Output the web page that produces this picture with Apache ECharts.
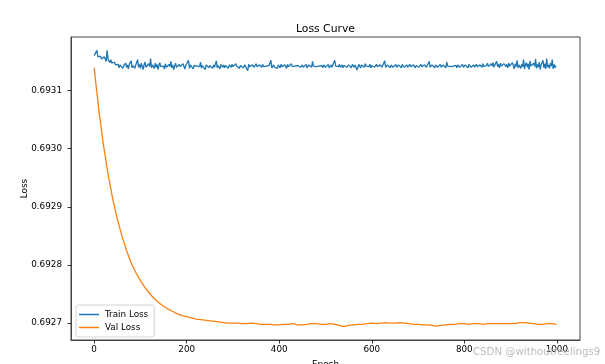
<!DOCTYPE html>
<html>
<head>
<meta charset="utf-8">
<script src="https://cdn.jsdelivr.net/npm/echarts@6/dist/echarts.min.js"></script>
<style>html,body{margin:0;padding:0;background:#fff;}#c{width:605px;height:364px;}</style>
</head>
<body>
<div id="c"></div>
<script>
// Train loss, one value every 2 epochs (0..998)
const trainStep = 2;
const trainLoss = [
0.693160,0.693163,0.693157,0.693169,0.693158,0.693161,0.693155,0.693159,0.693154,0.693157,0.693152,0.693158,0.693156,0.693150,0.693169,0.693154,0.693151,0.693148,0.693153,0.693147,0.693150,0.693146,0.693149,0.693144,0.693147,
0.693141,0.693145,0.693139,0.693144,0.693142,0.693146,0.693138,0.693143,0.693141,0.693147,0.693140,0.693144,0.693137,0.693145,0.693142,0.693151,0.693139,0.693143,0.693146,0.693138,0.693144,0.693141,0.693153,0.693140,0.693145,
0.693138,0.693147,0.693142,0.693136,0.693144,0.693149,0.693140,0.693143,0.693137,0.693146,0.693141,0.693155,0.693139,0.693144,0.693142,0.693138,0.693147,0.693140,0.693145,0.693136,0.693143,0.693148,0.693141,0.693139,0.693144,
0.693142,0.693137,0.693146,0.693140,0.693143,0.693138,0.693145,0.693141,0.693150,0.693139,0.693144,0.693136,0.693142,0.693147,0.693140,0.693143,0.693138,0.693145,0.693141,0.693144,0.693139,0.693146,0.693142,0.693137,0.693143,
0.693145,0.693140,0.693152,0.693138,0.693144,0.693141,0.693147,0.693137,0.693143,0.693140,0.693146,0.693142,0.693139,0.693144,0.693141,0.693149,0.693138,0.693143,0.693145,0.693140,0.693136,0.693144,0.693142,0.693147,0.693139,
0.693143,0.693141,0.693145,0.693138,0.693144,0.693140,0.693142,0.693151,0.693139,0.693143,0.693141,0.693137,0.693145,0.693142,0.693140,0.693144,0.693139,0.693143,0.693146,0.693141,0.693138,0.693144,0.693142,0.693140,0.693145,
0.693141,0.693143,0.693139,0.693146,0.693142,0.693140,0.693144,0.693138,0.693143,0.693141,0.693145,0.693139,0.693142,0.693144,0.693140,0.693143,0.693134,0.693145,0.693141,0.693143,0.693139,0.693144,0.693142,0.693140,0.693143,
0.693146,0.693141,0.693143,0.693139,0.693144,0.693142,0.693140,0.693145,0.693141,0.693143,0.693138,0.693142,0.693144,0.693140,0.693143,0.693141,0.693152,0.693139,0.693142,0.693144,0.693140,0.693143,0.693141,0.693138,0.693144,
0.693142,0.693139,0.693145,0.693141,0.693143,0.693140,0.693144,0.693142,0.693138,0.693145,0.693141,0.693143,0.693139,0.693146,0.693141,0.693144,0.693140,0.693142,0.693144,0.693139,0.693143,0.693141,0.693145,0.693140,0.693142,
0.693144,0.693140,0.693143,0.693141,0.693145,0.693139,0.693142,0.693144,0.693141,0.693143,0.693140,0.693150,0.693142,0.693139,0.693143,0.693141,0.693144,0.693140,0.693142,0.693145,0.693141,0.693143,0.693139,0.693144,0.693142,
0.693140,0.693143,0.693141,0.693145,0.693139,0.693142,0.693144,0.693140,0.693143,0.693141,0.693152,0.693142,0.693139,0.693143,0.693141,0.693145,0.693140,0.693142,0.693144,0.693139,0.693143,0.693141,0.693144,0.693140,0.693142,
0.693144,0.693141,0.693143,0.693139,0.693145,0.693142,0.693140,0.693144,0.693141,0.693135,0.693140,0.693145,0.693142,0.693139,0.693144,0.693141,0.693143,0.693140,0.693146,0.693142,0.693140,0.693143,0.693141,0.693145,0.693139,
0.693143,0.693141,0.693144,0.693140,0.693142,0.693145,0.693141,0.693143,0.693139,0.693144,0.693142,0.693140,0.693143,0.693141,0.693151,0.693140,0.693142,0.693144,0.693141,0.693143,0.693139,0.693144,0.693142,0.693140,0.693143,
0.693141,0.693145,0.693140,0.693142,0.693144,0.693141,0.693143,0.693139,0.693145,0.693142,0.693140,0.693143,0.693141,0.693144,0.693140,0.693142,0.693145,0.693141,0.693143,0.693140,0.693144,0.693142,0.693139,0.693143,0.693141,
0.693144,0.693140,0.693142,0.693145,0.693141,0.693143,0.693139,0.693144,0.693142,0.693140,0.693143,0.693141,0.693150,0.693140,0.693142,0.693144,0.693141,0.693143,0.693139,0.693144,0.693142,0.693140,0.693143,0.693141,0.693145,
0.693140,0.693142,0.693144,0.693141,0.693143,0.693139,0.693149,0.693142,0.693140,0.693143,0.693141,0.693144,0.693140,0.693142,0.693145,0.693141,0.693143,0.693139,0.693144,0.693142,0.693140,0.693143,0.693141,0.693145,0.693140,
0.693142,0.693144,0.693141,0.693143,0.693139,0.693145,0.693142,0.693140,0.693143,0.693141,0.693144,0.693140,0.693142,0.693145,0.693141,0.693143,0.693139,0.693144,0.693142,0.693140,0.693146,0.693141,0.693144,0.693140,0.693143,
0.693147,0.693141,0.693144,0.693139,0.693146,0.693142,0.693148,0.693140,0.693144,0.693142,0.693150,0.693141,0.693145,0.693139,0.693147,0.693142,0.693144,0.693140,0.693146,0.693143,0.693141,0.693145,0.693139,0.693147,0.693142,
0.693145,0.693140,0.693148,0.693142,0.693137,0.693146,0.693141,0.693152,0.693139,0.693144,0.693147,0.693138,0.693145,0.693141,0.693153,0.693137,0.693144,0.693148,0.693140,0.693146,0.693136,0.693151,0.693142,0.693145,0.693139,
0.693147,0.693141,0.693154,0.693138,0.693145,0.693140,0.693149,0.693136,0.693144,0.693142,0.693152,0.693139,0.693146,0.693137,0.693155,0.693140,0.693144,0.693138,0.693147,0.693142,0.693153,0.693137,0.693145,0.693139,0.693143
];
const valEpochs = [0,10,20,30,40,50,60,70,80,90,100,110,120,130,140,150,160,170,180,190,200,210,220,230,240,250,260,270,280,290,300,
310,320,330,340,350,360,370,380,390,400,410,420,430,440,450,460,470,480,490,500,510,520,530,540,550,560,570,580,590,600,
610,620,630,640,650,660,670,680,690,700,710,720,730,740,750,760,770,780,790,800,810,820,830,840,850,860,870,880,890,900,
910,920,930,940,950,960,970,980,990,999];
const valLoss = [0.693139,0.693067,0.693007,0.692957,0.692914,0.692879,0.692850,0.692825,0.692804,0.692787,0.692773,0.692761,0.692751,0.692742,0.692735,0.692729,0.692724,0.692720,0.692716,0.692713,0.692711,0.692709,0.692707,0.692706,0.692705,0.692704,0.692703,0.692702,0.692701,0.692700,0.692700,
0.692700,0.692699,0.692699,0.692700,0.692699,0.692698,0.692698,0.692698,0.692697,0.692697,0.692698,0.692698,0.692699,0.692697,0.692697,0.692698,0.692699,0.692699,0.692698,0.692698,0.692699,0.692698,0.692696,0.692694,0.692696,0.692697,0.692698,0.692698,0.692699,0.692700,
0.692699,0.692700,0.692701,0.692700,0.692700,0.692701,0.692700,0.692699,0.692698,0.692698,0.692697,0.692697,0.692696,0.692695,0.692696,0.692697,0.692698,0.692698,0.692699,0.692699,0.692698,0.692699,0.692699,0.692698,0.692699,0.692699,0.692699,0.692699,0.692699,0.692699,
0.692699,0.692701,0.692701,0.692700,0.692699,0.692698,0.692698,0.692699,0.692699,0.692698];
const xTicks = [0,200,400,600,800,1000];
const yTicks = [0.6927,0.6928,0.6929,0.6930,0.6931];
const seriesNames = ['Train Loss','Val Loss'];

const trainData = trainLoss.map((v,i)=>[i*trainStep, v]);
const valData = valLoss.map((v,i)=>[valEpochs[i], v]);
const FONT = 'DejaVu Sans';
const chart = echarts.init(document.getElementById('c'), null, {renderer:'canvas'});
chart.setOption({
  animation:false,
  backgroundColor:'#fff',
  title:{text:'Loss Curve', left:296, top:24, padding:0,
    textStyle:{fontFamily:FONT, fontSize:10.8, fontWeight:'normal', color:'#000'}},
  grid:{left:71, right:25, top:37, bottom:24, outerBoundsMode:'none', containLabel:false,
    show:true, borderColor:'#444', borderWidth:1, backgroundColor:'transparent'},
  legend:{data:seriesNames, orient:'vertical', left:76, top:305, padding:[5,6,5,3], itemGap:4,
    itemWidth:20, itemHeight:1.5, icon:'rect', borderColor:'#d4d4d4', borderWidth:1, borderRadius:2,
    backgroundColor:'rgba(255,255,255,0.8)',
    textStyle:{fontFamily:FONT, fontSize:8.8, color:'#000', padding:[0,0,0,1]}},
  xAxis:{type:'value', min:-50, max:1050, name:'Epoch', nameLocation:'middle', nameGap:20, nameMoveOverlap:false,
    nameTextStyle:{fontFamily:FONT, fontSize:8.8, color:'#000'},
    axisLine:{show:true, onZero:false, lineStyle:{color:'#444', width:1}},
    axisTick:{show:true, length:3.5, customValues:xTicks, lineStyle:{color:'#000', width:0.8}},
    axisLabel:{customValues:xTicks, margin:5, fontFamily:FONT, fontSize:8.8, color:'#000',
      formatter:(v)=>String(v)},
    splitLine:{show:false}},
  yAxis:{type:'value', min:0.692671, max:0.693192, name:'Loss', nameLocation:'middle', nameGap:42, nameMoveOverlap:false,
    nameTextStyle:{fontFamily:FONT, fontSize:8.8, color:'#000'},
    axisLine:{show:true, onZero:false, lineStyle:{color:'#444', width:1}},
    axisTick:{show:true, length:3.5, customValues:yTicks, lineStyle:{color:'#000', width:0.8}},
    axisLabel:{customValues:yTicks, margin:9, fontFamily:FONT, fontSize:8.8, color:'#000',
      formatter:(v)=>v.toFixed(4)},
    splitLine:{show:false}},
  series:[
    {name:seriesNames[0], type:'line', data:trainData, showSymbol:false, symbol:'none',
      lineStyle:{color:'#1f77b4', width:1.3}, itemStyle:{color:'#1f77b4'}},
    {name:seriesNames[1], type:'line', data:valData, showSymbol:false, symbol:'none',
      lineStyle:{color:'#ff7f0e', width:1.3}, itemStyle:{color:'#ff7f0e'}}
  ],
  graphic:[{type:'text', left:473, top:347, z:100, silent:true,
    style:{text:'CSDN @withoutfeelings9', fontFamily:FONT, fontSize:10.2, fill:'rgba(175,175,175,0.85)'}}]
});
</script>
</body>
</html>
